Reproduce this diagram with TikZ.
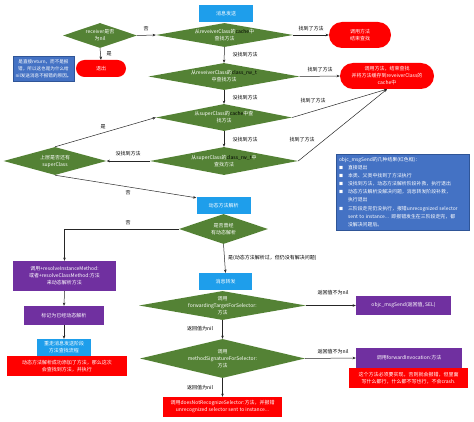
\documentclass[tikz,border=0pt]{standalone}
\usepackage{fontspec}
\setmainfont{Noto Sans CJK SC}
\usetikzlibrary{shapes.geometric,arrows.meta,calc}
\definecolor{dgreen}{RGB}{84,130,53}
\definecolor{pblue}{RGB}{30,158,235}
\definecolor{nblue}{RGB}{68,114,196}
\definecolor{nborder}{RGB}{47,85,151}
\definecolor{purp}{RGB}{112,48,160}
\definecolor{bred}{RGB}{255,0,0}
\newcommand{\blk}[1]{\textcolor{black}{#1}}
\newcommand{\bul}{\makebox[9pt][l]{\fontsize{4}{4}\selectfont ■}}
\begin{document}
\begin{tikzpicture}[x=1pt,y=-1pt,
  txt/.style={font=\fontsize{5}{7}\selectfont, text=white, align=center, inner sep=0pt},
  lbl/.style={font=\fontsize{5}{6}\selectfont, inner sep=0pt},
  dia/.style={diamond, fill=dgreen, inner sep=0pt},
  proc/.style={rectangle, fill=pblue, inner sep=0pt, txt},
  pbox/.style={rectangle, fill=purp, inner sep=0pt, txt},
  rbox/.style={rectangle, fill=bred, inner sep=0pt, txt},
  term/.style={rectangle, fill=bred, inner sep=0pt, txt},
  note/.style={rectangle, fill=nblue, draw=nborder, line width=0.4pt, inner sep=0pt, txt},
  arr/.style={-{Stealth[length=3.2pt,width=2.6pt]}, line width=0.5pt, draw=black!85},
  ln/.style={line width=0.5pt, draw=black!85}
]
\useasboundingbox (0,0) rectangle (474,422);

% top column
\node[proc, minimum width=54, minimum height=17] (send) at (226,13.5) {消息发送};
\node[dia, minimum width=74, minimum height=25, label={[txt]center:{receiver是否\\为nil}}] (d1) at (100,35.5) {};
\node[term, rounded corners=8.5pt, minimum width=50, minimum height=17] (exit) at (101,68.5) {退出};
\node[note, minimum width=61, minimum height=25, font=\fontsize{4.6}{7}\selectfont] (n1) at (43.5,68.5) {是直接return，而不是报\\错，所以这也是为什么给\\nil发送消息不报错的原因。};

\node[dia, minimum width=137, minimum height=24, label={[txt]center:{从reveiverClass的\blk{cache}中\\查找方法}}] (d2) at (224.5,35) {};
\node[term, rounded corners=13pt, minimum width=62, minimum height=26] (r1) at (360,35) {调用方法\\结束查找};

\node[dia, minimum width=151, minimum height=27, label={[txt]center:{从reveiverClass的\blk{class\_rw\_t}\\中查找方法}}] (d3) at (224,76.5) {};
\node[term, rounded corners=13pt, minimum width=94, minimum height=26] (r2) at (387,76) {调用方法，结束查找\\并将方法缓存到reveiverClass的\\cache中};

\node[dia, minimum width=136, minimum height=27, label={[txt]center:{从superClass的\blk{cache}中查\\找方法}}] (d4) at (224,117.5) {};
\node[dia, minimum width=148, minimum height=28, label={[txt]center:{从superClass的\blk{class\_rw\_t}中\\查找方法}}] (d5) at (224,161) {};
\node[dia, minimum width=103, minimum height=28, label={[txt]center:{上层是否还有\\superClass}}] (d6) at (55,161) {};

\node[proc, minimum width=54, minimum height=17] (dyn) at (223.5,205.5) {动态方法解析};
\node[dia, minimum width=89, minimum height=30, label={[txt]center:{是否曾经\\有动态解析}}] (d7) at (223.5,229) {};

% left column
\node[pbox, minimum width=103, minimum height=30] (p1) at (64.5,276) {调用+resolveInstanceMethod:\\或者+resolveClassMethod:方法\\来动态解析方法};
\node[pbox, minimum width=80, minimum height=19] (p2) at (64,315.5) {标记为已经动态解析};
\node[proc, minimum width=54, minimum height=17] (b3) at (64,347.5) {重走消息发送阶段\\方法查找流程};
\node[rbox, minimum width=120, minimum height=20] (r3) at (67,366) {动态方法解析成功添加了方法，那么这次\\会查找到方法，并执行};

% forwarding
\node[proc, minimum width=53, minimum height=17] (fwd) at (225.5,281.5) {消息转发};
\node[dia, minimum width=167, minimum height=29, label={[txt]center:{调用\\forwardingTargetForSelector:\\方法}}] (d8) at (222.5,305.5) {};
\node[pbox, minimum width=95, minimum height=19] (p3) at (403.5,305.5) {objc\_msgSend(返回值, SEL)};
\node[dia, minimum width=165, minimum height=39, label={[txt]center:{调用\\methodSignatureForSelector:\\方法}}] (d9) at (222.5,358.5) {};
\node[pbox, minimum width=106, minimum height=20] (p4) at (409,358) {调用forwardInvocation:方法};
\node[rbox, minimum width=119, minimum height=20] (r4) at (408.5,378) {这个方法必须要实现，否则就会报错，但里面\\写什么都行，什么都不写也行，不会crash.};
\node[rbox, minimum width=119, minimum height=20] (r5) at (222.5,407) {调用doesNotRecognizeSelector:方法，并报错\\unrecognized selector sent to instance...};

% result note
\node[note, minimum width=133, minimum height=76, text width=127pt, align=left, font=\fontsize{4.9}{8.1}\selectfont] (n2) at (402.5,192) {objc\_msgSend的几种结果(红色框)：\\
\bul 直接退出\\
\bul 本类、父类中找到了方法执行\\
\bul 没找到方法，动态方法解析阶段补救，执行退出\\
\bul 动态方法解析没解决问题，消息转发阶段补救，\\
\hspace*{9pt}执行退出\\
\bul 三阶段走完仍没执行，报错unrecognized selector\\
\hspace*{9pt}sent to instance... 即报错发生在三阶段走完，都\\
\hspace*{9pt}没解决问题后。};

% connectors
\draw[arr] (d1.east) -- (d2.west);
\draw[arr] (d1.south) -- (exit.north);
\draw[arr] (d2.east) -- (r1.west);
\draw[arr] (d2.south) -- (d3.north);
\draw[arr] (d3.east) -- (r2.west);
\draw[arr] (d3.south) -- (d4.north);
\draw[arr] (d4.east) -- (r2.south);
\draw[arr] (d5.east) -- (r2.south);
\draw[arr] (d4.south) -- (d5.north);
\draw[arr] (d5.west) -- (d6.east);
\draw[arr] (d6.north) -- (d4.west);
\draw[arr] (d6.south) -- ($(dyn.north west)+(0,1)$);
\draw[arr] (d7.west) -| (p1.north);
\draw[arr] (p1.south) -- (p2.north);
\draw[arr] (p2.south) -- (b3.north);
\draw[arr] (d7.south) -- (fwd.north);
\draw[arr] (d8.east) -- (p3.west);
\draw[arr] (d8.south) -- (d9.north);
\draw[arr] (d9.east) -- (p4.west);
\draw[arr] (d9.south) -- (r5.north);

% labels
\node[lbl] (l1) at (146,29) {否};
\node[lbl] (l2) at (109,54) {是};
\node[lbl] (l3) at (311,29) {找到了方法};
\node[lbl] (l4) at (245,55) {没找到方法};
\node[lbl] (l5) at (320,70) {找到了方法};
\node[lbl] (l6) at (245,97.5) {没找到方法};
\node[lbl] (l7) at (313,101) {找到了方法};
\node[lbl] (l8) at (245,140) {没找到方法};
\node[lbl] (l9) at (302,140) {找到了方法};
\node[lbl] (l10) at (128,154) {没找到方法};
\node[lbl] (l11) at (103,127) {是};
\node[lbl] (l12) at (128,193) {否};
\node[lbl] (l13) at (128,223) {否};
\node[lbl, anchor=west] (l14) at (228,258) {是(动态方法解析过，但仍没有解决问题)};
\node[lbl] (l15) at (333,293) {返回值不为nil};
\node[lbl] (l16) at (200,329) {返回值为nil};
\node[lbl] (l17) at (333,352) {返回值不为nil};
\node[lbl] (l18) at (200,388) {返回值为nil};
\end{tikzpicture}
\end{document}
